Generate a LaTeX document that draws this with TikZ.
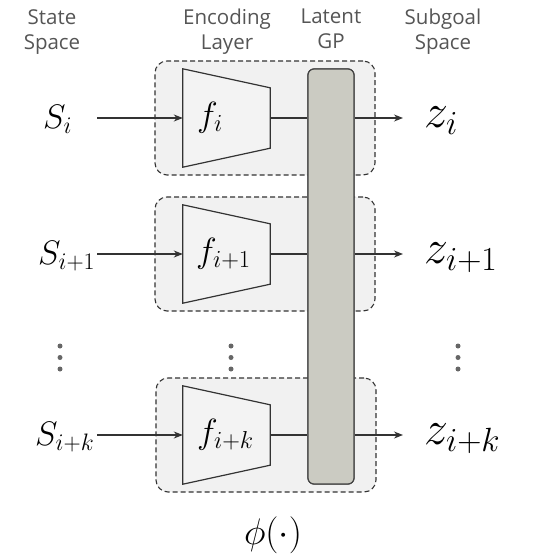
\RequirePackage{fix-cm}
\documentclass[tikz,border=0pt]{standalone}
\usepackage{fontspec}
\setmainfont{Open Sans}
\usetikzlibrary{arrows.meta,calc}
\definecolor{txtgray}{HTML}{555555}
\definecolor{linecol}{HTML}{333333}
\definecolor{boxfill}{HTML}{F1F1F1}
\definecolor{encfill}{HTML}{F3F3F3}
\definecolor{gpfill}{HTML}{CBCBC2}
\definecolor{gpline}{HTML}{454545}
\definecolor{dotcol}{HTML}{666666}
\begin{document}
\begin{tikzpicture}[x=1pt,y=-1pt,
  hdr/.style={text=txtgray, align=center, font=\fontsize{20.5}{25}\selectfont, inner sep=0pt},
  grp/.style={draw=linecol, dash pattern=on 5pt off 3pt, fill=boxfill, rounded corners=12pt, line width=1.1pt},
  encbox/.style={draw=none, minimum width=87pt, minimum height=98pt, inner sep=0pt},
  encshape/.style={draw=linecol, fill=encfill, line width=1.2pt},
  conn/.style={draw=linecol, line width=1.2pt},
  arr/.style={conn, -{Stealth[length=9pt,width=7pt]}},
  gpbar/.style={draw=gpline, fill=gpfill, line width=1.2pt, rounded corners=6pt, minimum width=46pt, minimum height=415pt, inner sep=0pt},
  slab/.style={anchor=base west, inner sep=0pt, font=\fontsize{34}{38}\selectfont},
  flab/.style={anchor=base west, inner sep=0pt, font=\fontsize{35}{38}\selectfont},
  zlab/.style={anchor=base west, inner sep=0pt, font=\fontsize{48}{50}\selectfont},
  dotc/.style={circle, fill=dotcol, minimum size=5pt, inner sep=0pt},
]
\useasboundingbox (0,0) rectangle (537,554);

% headers
\node[hdr, anchor=north] (h1) at (52,9) {State\\Space};
\node[hdr, anchor=north] (h2) at (227,9) {Encoding\\Layer};
\node[hdr, anchor=north] (h3) at (331,9) {Latent\\GP};
\node[hdr, anchor=north] (h4) at (443,9) {Subgoal\\Space};

% group boxes
\node[grp, minimum width=220pt, minimum height=114pt] (g1) at (265,118) {};
\node[grp, minimum width=220pt, minimum height=114pt] (g2) at (265,254) {};
\node[grp, minimum width=220pt, minimum height=114pt] (g3) at (266,435) {};

% encoders
\foreach \n/\y in {1/118,2/254,3/435}{
  \node[encbox] (f\n) at (226.5,\y) {};
  \draw[encshape] (f\n.north west) -- ($(f\n.north east)+(0,19)$) -- ($(f\n.south east)+(0,-19)$) -- (f\n.south west) -- cycle;
}

% labels
\node[slab] (s1) at (43,128) {$S_i$};
\node[slab] (s2) at (38,264) {$S_{i+1}$};
\node[slab] (s3) at (35,445) {$S_{i+k}$};
\node[flab] (fl1) at (197,126) {$f_i$};
\node[flab] (fl2) at (196,262) {$f_{i+1}$};
\node[flab] (fl3) at (197,443) {$f_{i+k}$};
\node[zlab] (z1) at (424,127) {$z_i$};
\node[zlab] (z2) at (424,263) {$z_{i+1}$};
\node[zlab] (z3) at (424,444) {$z_{i+k}$};

% input arrows
\coordinate (a1) at (97,118);
\coordinate (a2) at (97,254);
\coordinate (a3) at (97,435);
\foreach \n in {1,2,3}{
  \draw[arr] (a\n) -- (f\n.west);
}

% connectors into the latent GP bar
\node[gpbar] (gp) at (331,276.5) {};
\foreach \n in {1,2,3}{
  \draw[conn] (f\n.east) -- (gp.west |- f\n.east);
}
% bar drawn on top
\node[gpbar] (gpt) at (331,276.5) {};
\foreach \n in {1,2,3}{
  \draw[arr, shorten >=21pt] (gpt.east |- f\n.east) -- (z\n.west |- f\n.east);
}

% dots
\foreach \x/\k in {60/a,231/b,458/c}{
  \node[dotc] (d\k1) at (\x,346) {};
  \node[dotc] (d\k2) at (\x,357.5) {};
  \node[dotc] (d\k3) at (\x,369) {};
}

\node[anchor=base, inner sep=0pt, font=\fontsize{37}{40}\selectfont] (phi) at (273,544) {$\phi(\cdot)$};
\end{tikzpicture}
\end{document}
